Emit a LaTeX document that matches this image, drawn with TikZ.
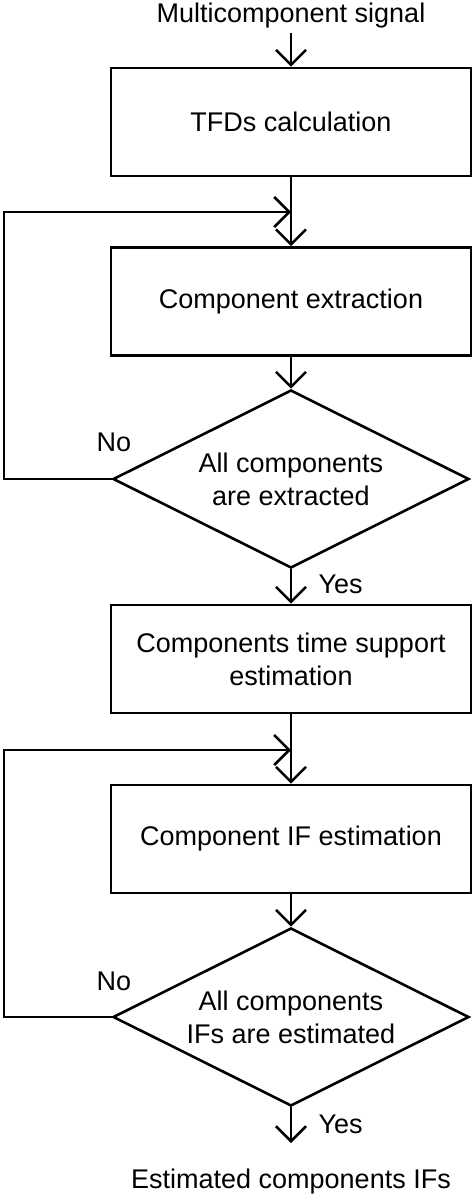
\documentclass[tikz,border=0pt]{standalone}
\usepackage{fontspec}
\setmainfont{Liberation Sans}
\usetikzlibrary{arrows.meta,shapes.geometric}

\begin{document}
\begin{tikzpicture}[
    x=1pt, y=-1pt,
    >={Straight Barb[length=15pt,width=30pt]},
    line width=2.6pt,
    every node/.style={font=\fontsize{27}{33}\selectfont},
    proc/.style={
        draw,
        rectangle,
        minimum width=360pt,
        minimum height=108pt,
        align=center
    },
    dec/.style={
        draw,
        diamond,
        aspect=2,
        inner sep=0pt,
        minimum width=356pt,
        minimum height=178pt,
        align=center
    }
]
\useasboundingbox (0,0) rectangle (474,1196);

\node[anchor=base] (sig) at (291,23) {Multicomponent signal};
\node[proc] (tfd)   at (291,122)   {TFDs calculation};
\node[proc] (extr)  at (291,301.5) {Component extraction};
\node[dec]  (chk1)  at (291,479)   {All components\\are extracted};
\node[proc] (supp)  at (291,659)   {Components time support\\estimation};
\node[proc] (ifest) at (291,839)   {Component IF estimation};
\node[dec]  (chk2)  at (291,1017)  {All components\\IFs are estimated};
\node[anchor=base] (est) at (291,1188) {Estimated components IFs};

\node[anchor=base west] (no1)  at (92,451)   {No};
\node[anchor=base west] (no2)  at (92,990)   {No};
\node[anchor=base west] (yes1) at (314,593)  {Yes};
\node[anchor=base west] (yes2) at (314,1133) {Yes};

\coordinate (m1)  at (291,212);
\coordinate (lp1) at (4,212);
\coordinate (m2)  at (291,750);
\coordinate (lp2) at (4,750);
\coordinate (endp) at (291,1143);

\draw[->] (sig) -- (tfd);
\draw[->] (tfd) -- (extr);
\draw[->] (extr) -- (chk1);
\draw[->] (chk1) -- (supp);
\draw[->] (supp) -- (ifest);
\draw[->] (ifest) -- (chk2);
\draw[->] (chk2) -- (endp);

% loops back
\draw[->] (chk1.west) -| (lp1) -- (m1);
\draw[->] (chk2.west) -| (lp2) -- (m2);

\end{tikzpicture}
\end{document}
